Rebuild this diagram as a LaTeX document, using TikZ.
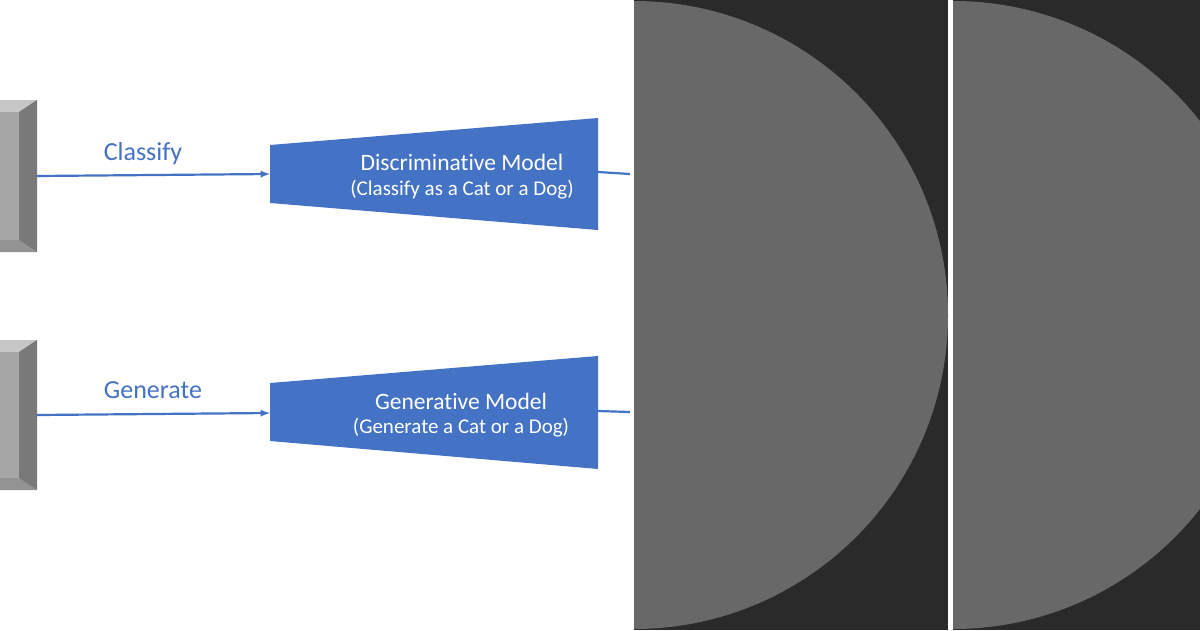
\documentclass[tikz,border=0pt]{standalone}
\usepackage{fontspec}
\setmainfont{Carlito}[Ligatures={NoCommon}]
\begin{document}
\begin{tikzpicture}[x=1pt,y=-1pt,
  blue/.style={draw=mblue,line width=2.2pt},
  trap/.style={fill=mblue},
  lbl/.style={text=mblue,font=\fontsize{26}{30}\selectfont},
  tin/.style={text=white,font=\fontsize{23.5}{27}\selectfont,align=center},
  tin2/.style={text=white,font=\fontsize{21}{24}\selectfont}]
\definecolor{mblue}{HTML}{4472C4}
\definecolor{dk}{HTML}{2A2A2A}
\definecolor{gr}{HTML}{686868}
\useasboundingbox (0,0) rectangle (1200,630);
\fill[white] (0,0) rectangle (1200,630);
% right panels
\fill[dk] (634,0) rectangle (948,630);
\fill[dk] (953,0) rectangle (1200,630);
\begin{scope}
\clip (634,0) rectangle (948,630);
\fill[gr] (634,315) circle[radius=314];
\end{scope}
\begin{scope}
\clip (953,0) rectangle (1200,630);
\fill[gr] (953,315) circle[radius=314];
\end{scope}
% bevel boxes
\foreach \t/\b [count=\i] in {100/252,340/490}{
  \fill[gray!75] (-5,\t) rectangle (37,\b);
  \fill[gray!45] (-5,\t) -- (37,\t) -- (19,\t+12) -- (-5,\t+12) -- cycle;
  \fill[gray!95!black] (37,\t) -- (37,\b) -- (19,\b-12) -- (19,\t+12) -- cycle;
  \fill[gray!85] (-5,\b) -- (37,\b) -- (19,\b-12) -- (-5,\b-12) -- cycle;
  \fill[gray!70] (-5,\t+12) rectangle (19,\b-12);
  \coordinate (box\i) at (37,{(\t+\b)/2});
}
% top model
\fill[trap] (270,145) -- (598,118) -- (598,230) -- (270,203) -- cycle;
\coordinate (d1) at (270,174);
\coordinate (d1o) at (598,172);
\coordinate (e1) at (630,174);
\draw[blue,-latex] (box1) -- (d1);
\draw[blue] (d1o) -- (e1);
\node[lbl] (cl) at (143,154) {Classify};
\node[tin] (dm) at (462,162) {Discriminative Model};
\node[tin2] (dms) at (462,190) {(Classify as a Cat or a Dog)};
% bottom model
\fill[trap] (270,383) -- (598,356) -- (598,469) -- (270,441) -- cycle;
\coordinate (d2) at (270,413);
\coordinate (d2o) at (598,411);
\coordinate (e2) at (630,412);
\draw[blue,-latex] (box2) -- (d2);
\draw[blue] (d2o) -- (e2);
\node[lbl] (ge) at (153,390) {Generate};
\node[tin] (gm) at (461,401) {Generative Model};
\node[tin2] (gms) at (461,428) {(Generate a Cat or a Dog)};
\end{tikzpicture}
\end{document}
